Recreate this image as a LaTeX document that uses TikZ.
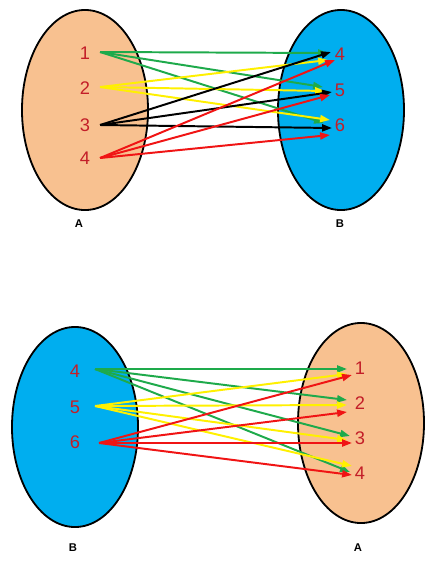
\documentclass[tikz,border=0pt]{standalone}
\usepackage{fontspec}
\setmainfont{Liberation Sans}
\usepackage{tikz}
\usetikzlibrary{shapes.geometric, arrows.meta, positioning, calc}
\definecolor{setorange}{RGB}{248,193,144}
\definecolor{setblue}{RGB}{0,174,239}
\definecolor{numred}{RGB}{195,30,40}
\definecolor{agreen}{RGB}{30,170,75}
\definecolor{ayellow}{RGB}{255,240,0}
\definecolor{ared}{RGB}{240,20,20}
\tikzset{
  setA/.style={ellipse, draw=black, fill=setorange, line width=1.3pt,
    minimum width=3.15cm, minimum height=5cm, inner sep=0pt},
  setB/.style={ellipse, draw=black, fill=setblue, line width=1.3pt,
    minimum width=3.15cm, minimum height=5cm, inner sep=0pt},
  elem/.style={font=\fontsize{13}{15}\selectfont, color=numred},
  setname/.style={font=\fontsize{8}{10}\selectfont\bfseries},
  map/.style={-{Triangle[length=7pt,width=5pt]}, line width=1.4pt},
  gmap/.style={map, color=agreen},
  ymap/.style={map, color=ayellow},
  kmap/.style={map, color=black},
  rmap/.style={map, color=ared}
}

\begin{document}
\begin{tikzpicture}[x=0.025cm, y=-0.025cm]
  \useasboundingbox (0,0) rectangle (431,562);
  % upper picture: A -> B
  \node[setA] (ellA) at (85,110) {};
  \node[setB] (ellB) at (341,110) {};
  \node[setname] (nameA) at (79,224) {A};
  \node[setname] (nameB) at (340,224) {B};
  \node[elem] (a1) at (85,53) {1};
  \node[elem] (a2) at (85,88) {2};
  \node[elem] (a3) at (85,125) {3};
  \node[elem] (a4) at (85,158) {4};
  \node[elem] (b4) at (340,54) {4};
  \node[elem] (b5) at (340,90) {5};
  \node[elem] (b6) at (340,125) {6};
  \draw[gmap] ($(a1.east)+(5,-1)$) -- ($(b4.west)+(-2,-1)$);
  \draw[gmap] ($(a1.east)+(5,-1)$) -- ($(b5.west)+(-7,-3)$);
  \draw[gmap] ($(a1.east)+(5,-1)$) -- ($(b6.west)+(-6,-2)$);
  \draw[ymap] ($(a2.east)+(5,-1)$) -- ($(b4.west)+(-2,6)$);
  \draw[ymap] ($(a2.east)+(5,-1)$) -- ($(b5.west)+(-5,1)$);
  \draw[ymap] ($(a2.east)+(5,-1)$) -- ($(b6.west)+(0,-5)$);
  \draw[kmap] ($(a3.east)+(5,0)$) -- ($(b4.west)+(1,-2)$);
  \draw[kmap] ($(a3.east)+(5,0)$) -- ($(b5.west)+(2,2)$);
  \draw[kmap] ($(a3.east)+(5,0)$) -- ($(b6.west)+(2,3)$);
  \draw[rmap] ($(a4.east)+(5,0)$) -- ($(b4.west)+(5,6)$);
  \draw[rmap] ($(a4.east)+(5,0)$) -- ($(b5.west)+(0,5)$);
  \draw[rmap] ($(a4.east)+(5,0)$) -- ($(b6.west)+(0,10)$);
  % lower picture: B -> A
  \node[setB] (ellB2) at (75,427) {};
  \node[setA] (ellA2) at (361,423) {};
  \node[setname] (nameB2) at (73,548) {B};
  \node[setname] (nameA2) at (358,548) {A};
  \node[elem] (c4) at (75,371) {4};
  \node[elem] (c5) at (75,407) {5};
  \node[elem] (c6) at (75,442) {6};
  \node[elem] (d1) at (360,368) {1};
  \node[elem] (d2) at (360,403) {2};
  \node[elem] (d3) at (360,438) {3};
  \node[elem] (d4) at (360,473) {4};
  \draw[gmap] ($(c4.east)+(10,-2)$) -- ($(d1.west)+(-3,1)$);
  \draw[gmap] ($(c4.east)+(10,-2)$) -- ($(d2.west)+(-3,-3)$);
  \draw[gmap] ($(c4.east)+(10,-2)$) -- ($(d3.west)+(0,-2)$);
  \draw[gmap] ($(c4.east)+(10,-2)$) -- ($(d4.west)+(0,-1)$);
  \draw[ymap] ($(c5.east)+(10,-1)$) -- ($(d1.west)+(-3,6)$);
  \draw[ymap] ($(c5.east)+(10,-1)$) -- ($(d2.west)+(-3,2)$);
  \draw[ymap] ($(c5.east)+(10,-1)$) -- ($(d3.west)+(-3,2)$);
  \draw[ymap] ($(c5.east)+(10,-1)$) -- ($(d4.west)+(2,-7)$);
  \draw[rmap] ($(c6.east)+(14,1)$) -- ($(d1.west)+(2,7)$);
  \draw[rmap] ($(c6.east)+(14,1)$) -- ($(d2.west)+(-3,9)$);
  \draw[rmap] ($(c6.east)+(14,1)$) -- ($(d3.west)+(2,5)$);
  \draw[rmap] ($(c6.east)+(14,1)$) -- ($(d4.west)+(2,2)$);
\end{tikzpicture}
\end{document}
